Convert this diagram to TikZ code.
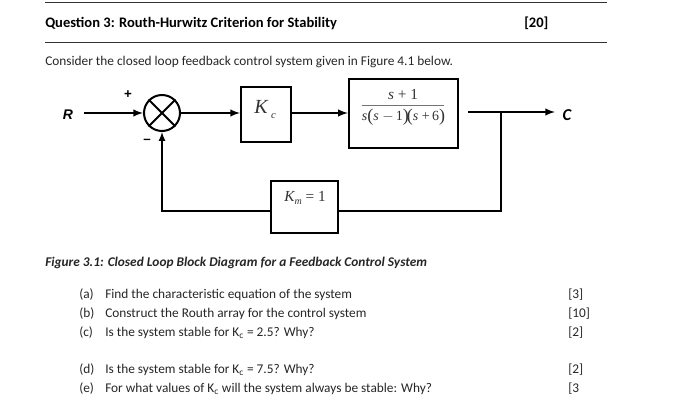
\documentclass[tikz,border=0pt]{standalone}
\usepackage{fontspec}
\setmainfont{Carlito}
\newfontfamily\timesfont{Liberation Serif}
\newfontfamily\arialfont{Liberation Sans}
\usetikzlibrary{positioning}
\newcommand{\bigparen}[1]{{\upshape\fontsize{13.5}{13.5}\selectfont\raisebox{-0.6pt}{#1}}}
\tikzset{
    rulerline/.style={draw=black!80,line width=0.65pt},
    blockbox/.style={draw,line width=1.5pt,inner sep=0pt},
    wire/.style={line width=1.5pt},
    txt/.style={anchor=base west,inner sep=0pt,font=\fontsize{10}{12}\selectfont,text=black!85},
    headtxt/.style={txt,font=\fontsize{10.9}{12}\selectfont\bfseries,text=black},
    eqn/.style={inner sep=0pt,font=\timesfont\fontsize{11.5}{13}\selectfont,text=black!80},
}
\begin{document}
\begin{tikzpicture}[x=0.75pt,y=-0.75pt]
    \useasboundingbox (0,0) rectangle (678,414);
    % header
    \coordinate (ruleAL) at (45,2);
    \coordinate (ruleAR) at (607,2);
    \coordinate (ruleBL) at (45,42);
    \coordinate (ruleBR) at (607,42);
    \draw [rulerline] (ruleAL) -- (ruleAR);
    \draw [rulerline] (ruleBL) -- (ruleBR);
    \node [headtxt] (title) at (45,27) {Question 3: Routh-Hurwitz Criterion for Stability};
    \node [headtxt] (total) at (524,27) {[20]};
    \node [txt] (intro) at (45,65) {Consider the closed loop feedback control system given in Figure 4.1 below.};
    % blocks
    \node [draw,circle,line width=1.5pt,minimum size=27pt,inner sep=0pt] (sum) at (162,113) {};
    \draw [wire] (sum.north west) -- (sum.south east);
    \draw [wire] (sum.north east) -- (sum.south west);
    \node [blockbox,minimum width=37.5pt,minimum height=41pt] (gain) at (266,114.5) {};
    \node [blockbox,minimum width=82pt,minimum height=52pt] (plant) at (403.5,113.5) {};
    \node [blockbox,line width=1.1pt,minimum width=50pt,minimum height=39pt] (sensor) at (304.5,207) {};
    \node [eqn,font=\timesfont\itshape\fontsize{15}{15}\selectfont] (gainK) at (261,107) {K};
    \node [eqn,font=\timesfont\itshape\fontsize{8}{8}\selectfont] (gainc) at (273.5,116) {c};
    \node [eqn] (plantN) at (403,95) {\itshape s \upshape + 1};
    \draw [black!55,line width=0.5pt] (362,105) -- (444,105);
    \node [eqn,font=\timesfont\fontsize{10.5}{13}\selectfont] (plantD) at (403.5,117) {\itshape s\bigparen{(}s \upshape$-$\,1\bigparen{)}\hspace{-1.5pt}\bigparen{(}\itshape s \upshape+\,6\bigparen{)}};
    \node [eqn] (sensorL) at (305,198) {\itshape K\raisebox{-2pt}{\fontsize{7.5}{7.5}\selectfont m} \upshape= 1};
    % signals
    \node [inner sep=0pt,font=\arialfont\bfseries\itshape\fontsize{10.5}{11}\selectfont] (inR) at (68,115) {R};
    \node [inner sep=0pt,font=\bfseries\itshape\fontsize{12.5}{12}\selectfont] (outC) at (567,115) {C};
    \node [inner sep=0pt,font=\arialfont\bfseries\fontsize{10}{10}\selectfont] (plus) at (128,95) {+};
    \node [inner sep=0pt,font=\arialfont\bfseries\fontsize{10}{10}\selectfont] (minus) at (147,141) {\textendash};
    \coordinate (inEnd) at (84,113);
    \coordinate (outStart) at (468,112);
    \coordinate (outEnd) at (555,112);
    \coordinate (branch) at (501,112);
    \draw [wire,-latex] (inEnd) -- (sum);
    \draw [wire,-latex] (sum) -- (gain.west |- sum);
    \draw [wire,-latex] (gain.east |- sum) -- (plant.west |- sum);
    \draw [wire,-latex] (outStart) -- (outEnd);
    \draw [wire,line width=1.3pt,line join=miter] (branch) |- (sensor.east |- 0,211);
    \draw [wire,line width=1.3pt,-latex] (sensor.west |- 0,211) -| (sum.south);
    % caption and questions
    \node [txt,font=\fontsize{10}{12}\selectfont\bfseries\itshape] (caption) at (45,266) {Figure 3.1: Closed Loop Block Diagram for a Feedback Control System};
    \foreach \y/\lab/\body/\mark in {298/(a)/Find the characteristic equation of the system/{[3]},
        317/(b)/Construct the Routh array for the control system/{[10]},
        336/(c)/Is the system stable for K\textsubscript{c} = 2.5? Why?/{[2]},
        373/(d)/Is the system stable for K\textsubscript{c} = 7.5? Why?/{[2]},
        392/(e)/For what values of K\textsubscript{c} will the system always be stable: Why?/{[3}}{%
        \node [txt] (lab\y) at (79,\y) {\lab};
        \node [txt] (body\y) at (105,\y) {\body};
        \node [txt] (mark\y) at (568,\y) {\mark};
    }
\end{tikzpicture}
\end{document}
